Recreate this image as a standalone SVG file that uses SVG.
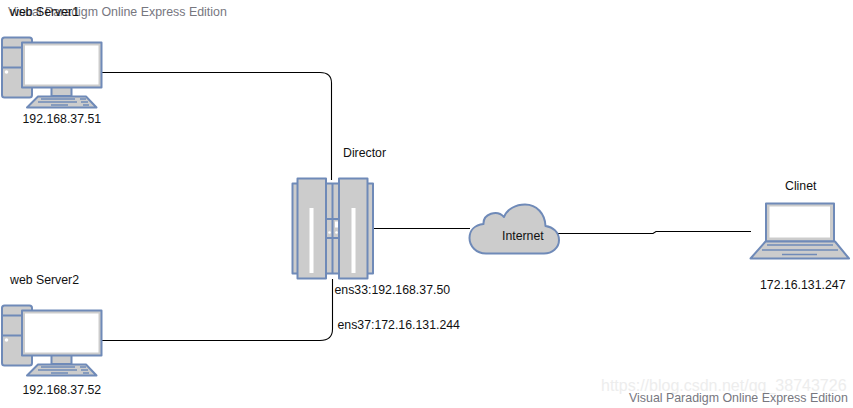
<svg xmlns="http://www.w3.org/2000/svg" width="853" height="408" viewBox="0 0 853 408">
<style>
text{font-family:"Liberation Sans",Arial,sans-serif;font-size:12.300px;fill:#111}
.wm{fill:#77777f;font-size:12.400px}
.mark{fill:#ededed;font-size:16px}
.s{fill:#cccccc;stroke:#6f8ab8;stroke-width:2;stroke-linejoin:round}
.w{fill:#fff}
.c{fill:none;stroke:#000;stroke-width:1.100}
.k{fill:none;stroke:#6f8ab8;stroke-width:2}
</style>
<defs>
<g id="pc">
<rect class="s" x="2" y="37.500" width="30" height="60" rx="2.500"/>
<path class="k" d="M2 47.500H22M2 67.500H22"/>
<circle class="w" cx="6.500" cy="72" r="1.800"/>
<rect class="s" x="51.500" y="87" width="20" height="9"/>
<rect class="s" x="22" y="42.500" width="79.500" height="45"/>
<rect class="w" x="25" y="45.500" width="73.500" height="39"/>
<path class="s" d="M27 107.500L38 96.500H86L96.500 107.500Z"/>
<path class="k" style="stroke-width:1.500" d="M41 99H75M80 99H86M38 102H77M81 102H88M51 105H68M83 105H89"/>
</g>
</defs>
<g id="connectors">
<path class="c" d="M102 72.500H320Q331.500 72.500 331.500 83V180"/>
<path class="c" d="M102 340.500H320Q332.500 340.500 332.500 329V279"/>
<path class="c" d="M372 228.500H470"/>
<path class="c" d="M555 233.500H653L656 231.500H751"/>
</g>
<g id="watermark-top"><text class="wm" x="8" y="16">Visual Paradigm Online Express Edition</text></g>
<g id="server1">
<use href="#pc"/>
<text x="10" y="16">web Server1</text>
<text x="22.500" y="122.500">192.168.37.51</text>
</g>
<g id="server2">
<use href="#pc" y="268"/>
<text x="10" y="284">web Server2</text>
<text x="22.500" y="393.500">192.168.37.52</text>
</g>
<g id="director">
<rect class="s" x="292.500" y="183.500" width="6" height="90"/>
<rect class="s" x="367" y="183.500" width="6" height="90"/>
<rect class="s" x="325" y="183.500" width="15" height="90"/>
<path class="k" d="M332.500 183.500V273.500"/>
<rect class="s" x="325.500" y="219" width="14" height="19"/>
<path class="k" d="M332.500 219V238"/>
<rect class="w" x="335" y="221.500" width="3" height="6"/>
<circle class="w" cx="329.500" cy="232.500" r="1.300"/>
<circle class="w" cx="336.500" cy="232.500" r="1.300"/>
<rect class="s" x="297.500" y="178.500" width="28.500" height="100"/>
<rect class="s" x="339" y="178.500" width="28.500" height="100"/>
<rect class="w" x="309.500" y="208" width="4" height="65"/>
<rect class="w" x="351.500" y="208" width="4" height="65"/>
<text x="343" y="157">Director</text>
<text x="334.500" y="294">ens33:192.168.37.50</text>
<text x="337.500" y="329">ens37:172.16.131.244</text>
</g>
<g id="internet">
<path class="s" d="M486 253.500C476 253.500 469.500 246 469.500 238C469.500 230 475 225 483.500 224C483 214 497 209 504 217C507 209 516 204.500 525 204.500C537 204.500 545 214 545.500 226C553 227 559 232 559 240C559 248 552 253.500 544 253.500Z"/>
<text x="502" y="240">Internet</text>
</g>
<g id="client">
<rect class="s" x="766" y="203.500" width="68" height="38"/>
<rect class="w" x="769.500" y="206.500" width="60.500" height="31"/>
<path class="s" d="M765.500 241.500H835L849 258.500H750.500Z"/>
<path class="k" style="stroke-width:1.500" d="M767 245H833M762 250H838M782 254.500H817"/>
<text x="785" y="190">Clinet</text>
<text x="760" y="289">172.16.131.247</text>
</g>
<g id="watermark-bottom">
<text class="mark" x="601" y="391">https://blog.csdn.net/qq_38743726</text>
<text class="wm" x="629" y="402">Visual Paradigm Online Express Edition</text>
</g>
</svg>
